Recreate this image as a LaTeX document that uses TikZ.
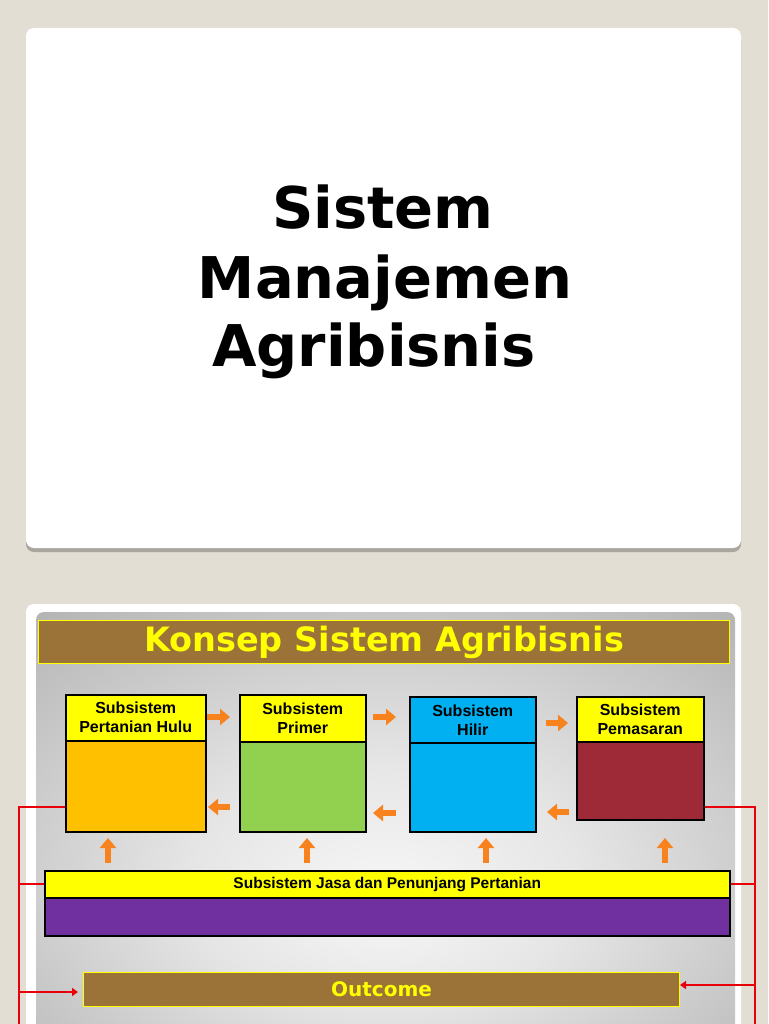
\documentclass[tikz,border=0pt]{standalone}
\usepackage{fontspec}
\setmainfont{Liberation Sans}
\newfontfamily\dv{DejaVu Sans}
\usetikzlibrary{arrows.meta,calc}
\definecolor{bgc}{HTML}{E3DED3}
\definecolor{shadowc}{HTML}{A9A69E}
\definecolor{orangec}{HTML}{FFC000}
\definecolor{greenc}{HTML}{92D050}
\definecolor{bluec}{HTML}{00B0F0}
\definecolor{maroonc}{HTML}{9E2A38}
\definecolor{purplec}{HTML}{7030A0}
\definecolor{yellowc}{HTML}{FFFF00}
\definecolor{brownc}{HTML}{9B7339}
\definecolor{arrowc}{HTML}{F7821E}
\definecolor{redc}{HTML}{E8000B}
\pgfdeclareradialshading{panelshade}{\pgfpoint{0bp}{-8bp}}{color(0bp)=(white!97!black); color(14bp)=(white!90!black); color(36bp)=(white!72!black); color(52bp)=(white!58!black); color(60bp)=(white!55!black)}
\tikzset{
  boxbody/.style={draw=black, line width=2pt, anchor=north west, inner sep=0pt},
  boxhead/.style={draw=black, line width=1.5pt, anchor=north west, inner sep=0pt, fill=yellowc, align=center,
    font=\bfseries\fontsize{16}{19}\selectfont},
  oarrow/.style={draw=arrowc, line width=6pt, -{Triangle[width=16pt,length=10pt]}},
  redline/.style={draw=redc, line width=2.2pt},
  redarrow/.style={draw=redc, line width=2.2pt, -{Triangle[width=8pt,length=6pt]}},
  bigtitle/.style={font=\dv\bfseries\fontsize{57.5}{68}\selectfont, anchor=base},
}
\begin{document}
\begin{tikzpicture}[x=1pt,y=-1pt]
\useasboundingbox (0,0) rectangle (768,1024);
\fill[bgc] (0,0) rectangle (768,1024);
% slide 1
\fill[shadowc, rounded corners=8pt] (26,32) rectangle (741,552);
\fill[white, rounded corners=8pt] (26,28) rectangle (741,548);
\node[bigtitle] (t1) at (383,229) {Sistem};
\node[bigtitle] (t2) at (385,298) {Manajemen};
\node[bigtitle] (t3) at (384,366) {Agribisnis\kern0.35em};
% slide 2
\fill[white, rounded corners=8pt] (26,604) rectangle (741,1050);
\shade[shading=panelshade, rounded corners=8pt] (36,612) rectangle (735,1050);
\node[draw=yellowc, fill=brownc, line width=1pt, minimum width=691pt, minimum height=43pt, anchor=north west, inner sep=0pt,
  text=yellowc, font=\dv\bfseries\fontsize{33.5}{40}\selectfont] (title) at (38,620) {Konsep Sistem Agribisnis};
% boxes
\node[boxbody, fill=orangec, minimum width=140pt, minimum height=137pt] (b1) at (65,694) {};
\node[boxhead, minimum width=140pt, minimum height=46pt] (h1) at (65,694) {Subsistem\\Pertanian Hulu};
\node[boxbody, fill=greenc, minimum width=126pt, minimum height=137pt] (b2) at (239,694) {};
\node[boxhead, minimum width=126pt, minimum height=47pt] (h2) at (239,694) {Subsistem\\Primer};
\node[boxbody, fill=bluec, minimum width=126pt, minimum height=135pt] (b3) at (409,696) {};
\node[boxhead, fill=bluec, minimum width=126pt, minimum height=46pt] (h3) at (409,696) {Subsistem\\Hilir};
\node[boxbody, fill=maroonc, minimum width=127pt, minimum height=123pt] (b4) at (576,696) {};
\node[boxhead, minimum width=127pt, minimum height=45pt] (h4) at (576,696) {Subsistem\\Pemasaran};
% jasa
\node[boxbody, fill=purplec, minimum width=685pt, minimum height=65pt] (jasa) at (44,870) {};
\node[boxhead, minimum width=685pt, minimum height=27pt, font=\bfseries\fontsize{15.5}{18}\selectfont] (jh) at (44,870) {Subsistem Jasa dan Penunjang Pertanian};
% outcome
\node[draw=yellowc, fill=brownc, line width=1pt, minimum width=596pt, minimum height=34pt, anchor=north west, inner sep=0pt,
  text=yellowc, font=\dv\bfseries\fontsize{20}{24}\selectfont] (out) at (83,972) {Outcome};
% orange arrows right
\draw[oarrow] ([yshift=-23pt]b1.north east) -- ([yshift=-23pt,xshift=-9pt]b2.north west);
\draw[oarrow] ([yshift=-23pt,xshift=6pt]b2.north east) -- ([yshift=-21pt,xshift=-13pt]b3.north west);
\draw[oarrow] ([yshift=-27pt,xshift=9pt]b3.north east) -- ([yshift=-27pt,xshift=-8pt]b4.north west);
% orange arrows left
\draw[oarrow] ([yshift=-113pt,xshift=-9pt]b2.north west) -- ([yshift=-113pt,xshift=1pt]b1.north east);
\draw[oarrow] ([yshift=-117pt,xshift=-13pt]b3.north west) -- ([yshift=-119pt,xshift=6pt]b2.north east);
\draw[oarrow] ([yshift=-116pt,xshift=-7pt]b4.north west) -- ([yshift=-116pt,xshift=10pt]b3.north east);
% orange arrows up
\coordinate (u1) at (108,863); \coordinate (v1) at (108,838);
\coordinate (u2) at (307,863); \coordinate (v2) at (307,838);
\coordinate (u3) at (486,863); \coordinate (v3) at (486,838);
\coordinate (u4) at (665,863); \coordinate (v4) at (665,838);
\draw[oarrow] (u1) -- (v1);
\draw[oarrow] (u2) -- (v2);
\draw[oarrow] (u3) -- (v3);
\draw[oarrow] (u4) -- (v4);
% red lines left
\coordinate (L1) at (19,807);
\coordinate (L2) at (19,1030);
\coordinate (L4) at (19,992);
\draw[redline] ([yshift=-113pt]b1.north west) -- (L1) -- (L2);
\draw[redline] (jh.west) -- (jh.west -| L1);
\draw[redarrow, shorten >=5pt] (L4) -- (L4 -| out.west);
% red lines right
\coordinate (R1) at (755,807);
\coordinate (R2) at (755,1030);
\coordinate (R4) at (755,985);
\draw[redline] ([yshift=-111pt]b4.north east) -- (R1) -- (R2);
\draw[redline] (jh.east) -- (jh.east -| R1);
\draw[redarrow] (R4) -- (R4 -| out.east);
\end{tikzpicture}
\end{document}
